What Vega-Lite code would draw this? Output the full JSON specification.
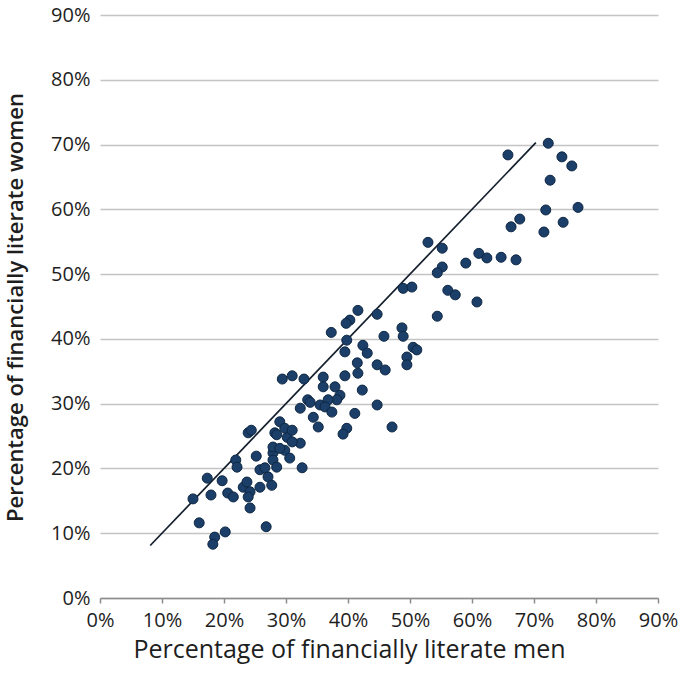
{
  "$schema": "https://vega.github.io/schema/vega-lite/v6.json",
  "autosize": "none",
  "width": 558,
  "height": 583,
  "padding": {"left": 100, "top": 15, "right": 27, "bottom": 77},
  "background": "white",
  "config": {
    "view": {"stroke": null},
    "font": "Open Sans",
    "axis": {"labelFont": "Open Sans", "titleFont": "Open Sans", "labelColor": "#1e1e1e", "titleColor": "#1e1e1e"}
  },
  "datasets": {
    "pts": [
      {"men": 0.150, "women": 0.153}, {"men": 0.160, "women": 0.116}, {"men": 0.173, "women": 0.185},
      {"men": 0.197, "women": 0.181}, {"men": 0.179, "women": 0.159}, {"men": 0.185, "women": 0.094},
      {"men": 0.182, "women": 0.083}, {"men": 0.202, "women": 0.102}, {"men": 0.268, "women": 0.110},
      {"men": 0.242, "women": 0.139}, {"men": 0.206, "women": 0.162}, {"men": 0.215, "women": 0.156},
      {"men": 0.219, "women": 0.213}, {"men": 0.221, "women": 0.202}, {"men": 0.231, "women": 0.171},
      {"men": 0.237, "women": 0.179}, {"men": 0.242, "women": 0.164}, {"men": 0.239, "women": 0.156},
      {"men": 0.252, "women": 0.219}, {"men": 0.239, "women": 0.255}, {"men": 0.244, "women": 0.259},
      {"men": 0.258, "women": 0.198}, {"men": 0.271, "women": 0.187}, {"men": 0.277, "women": 0.174},
      {"men": 0.258, "women": 0.171}, {"men": 0.279, "women": 0.224}, {"men": 0.282, "women": 0.255},
      {"men": 0.290, "women": 0.272}, {"men": 0.285, "women": 0.252}, {"men": 0.302, "women": 0.248},
      {"men": 0.323, "women": 0.239}, {"men": 0.279, "women": 0.233}, {"men": 0.298, "women": 0.228},
      {"men": 0.279, "women": 0.213}, {"men": 0.266, "women": 0.201}, {"men": 0.285, "women": 0.202},
      {"men": 0.326, "women": 0.201}, {"men": 0.290, "women": 0.231}, {"men": 0.310, "women": 0.241},
      {"men": 0.298, "women": 0.262}, {"men": 0.310, "women": 0.259}, {"men": 0.306, "women": 0.216},
      {"men": 0.294, "women": 0.338}, {"men": 0.310, "women": 0.343}, {"men": 0.329, "women": 0.338},
      {"men": 0.335, "women": 0.306}, {"men": 0.323, "women": 0.293}, {"men": 0.360, "women": 0.341},
      {"men": 0.360, "women": 0.326}, {"men": 0.379, "women": 0.326}, {"men": 0.387, "women": 0.313},
      {"men": 0.382, "women": 0.306}, {"men": 0.368, "women": 0.306}, {"men": 0.355, "women": 0.298},
      {"men": 0.339, "women": 0.302}, {"men": 0.363, "women": 0.295}, {"men": 0.374, "women": 0.287},
      {"men": 0.344, "women": 0.279}, {"men": 0.352, "women": 0.264}, {"men": 0.411, "women": 0.285},
      {"men": 0.447, "women": 0.298}, {"men": 0.398, "women": 0.262}, {"men": 0.392, "women": 0.253},
      {"men": 0.471, "women": 0.264}, {"men": 0.423, "women": 0.321}, {"men": 0.395, "women": 0.343},
      {"men": 0.415, "women": 0.363}, {"men": 0.416, "women": 0.347}, {"men": 0.424, "women": 0.390},
      {"men": 0.431, "women": 0.378}, {"men": 0.447, "women": 0.360}, {"men": 0.460, "women": 0.352},
      {"men": 0.395, "women": 0.380}, {"men": 0.398, "women": 0.398}, {"men": 0.373, "women": 0.410},
      {"men": 0.416, "women": 0.444}, {"men": 0.403, "women": 0.429}, {"men": 0.397, "women": 0.424},
      {"men": 0.447, "women": 0.438}, {"men": 0.458, "women": 0.404}, {"men": 0.487, "women": 0.417},
      {"men": 0.489, "women": 0.404}, {"men": 0.505, "women": 0.387}, {"men": 0.511, "women": 0.383},
      {"men": 0.495, "women": 0.372}, {"men": 0.495, "women": 0.360}, {"men": 0.489, "women": 0.478},
      {"men": 0.503, "women": 0.480}, {"men": 0.544, "women": 0.435}, {"men": 0.561, "women": 0.475},
      {"men": 0.573, "women": 0.468}, {"men": 0.608, "women": 0.457}, {"men": 0.529, "women": 0.549},
      {"men": 0.552, "women": 0.540}, {"men": 0.552, "women": 0.511}, {"men": 0.544, "women": 0.502},
      {"men": 0.590, "women": 0.517}, {"men": 0.611, "women": 0.532}, {"men": 0.624, "women": 0.525},
      {"men": 0.647, "women": 0.526}, {"men": 0.671, "women": 0.522}, {"men": 0.663, "women": 0.573},
      {"men": 0.677, "women": 0.585}, {"men": 0.716, "women": 0.565}, {"men": 0.719, "women": 0.599},
      {"men": 0.747, "women": 0.580}, {"men": 0.771, "women": 0.603}, {"men": 0.726, "women": 0.645},
      {"men": 0.723, "women": 0.702}, {"men": 0.658, "women": 0.684}, {"men": 0.745, "women": 0.681},
      {"men": 0.761, "women": 0.667}
    ],
    "diag": [
      {"men": 0.081, "women": 0.081},
      {"men": 0.703, "women": 0.703}
    ]
  },
  "layer": [
    {
      "data": {"name": "diag"},
      "mark": {"type": "line", "color": "#15202e", "strokeWidth": 1.7},
      "encoding": {
        "x": {
          "field": "men", "type": "quantitative",
          "scale": {"domain": [0, 0.9], "nice": false, "zero": false},
          "axis": {
            "values": [0, 0.1, 0.2, 0.3, 0.4, 0.5, 0.6, 0.7, 0.8, 0.9],
            "format": ".0%",
            "title": "Percentage of financially literate men",
            "grid": false,
            "domainColor": "#8c8c8c",
            "domainWidth": 1.5,
            "tickColor": "#8c8c8c",
            "tickWidth": 1.5,
            "tickSize": 5,
            "labelFontSize": 20,
            "labelPadding": 7,
            "labelFlush": false,
            "labelOverlap": false,
            "titleFontSize": 25,
            "titleFontWeight": "normal",
            "titleX": 249,
            "titleY": 59,
            "titleBaseline": "alphabetic"
          }
        },
        "y": {
          "field": "women", "type": "quantitative",
          "scale": {"domain": [0, 0.9], "nice": false, "zero": false},
          "axis": {
            "values": [0, 0.1, 0.2, 0.3, 0.4, 0.5, 0.6, 0.7, 0.8, 0.9],
            "format": ".0%",
            "title": "Percentage of financially literate women",
            "grid": true,
            "gridColor": "#c4c4c4",
            "gridWidth": 1.5,
            "domain": false,
            "ticks": false,
            "labelFontSize": 20,
            "labelPadding": 10,
            "labelFlush": false,
            "labelOverlap": false,
            "titleFontSize": 22,
            "titleFontWeight": 600,
            "titleX": -85,
            "titleY": 292,
            "titleBaseline": "middle",
            "titleAngle": -90
          }
        }
      }
    },
    {
      "data": {"name": "pts"},
      "mark": {"type": "circle", "size": 100, "opacity": 1, "color": "#1b3f68", "stroke": "#0e2743", "strokeWidth": 1},
      "encoding": {
        "x": {"field": "men", "type": "quantitative"},
        "y": {"field": "women", "type": "quantitative"}
      }
    }
  ]
}
